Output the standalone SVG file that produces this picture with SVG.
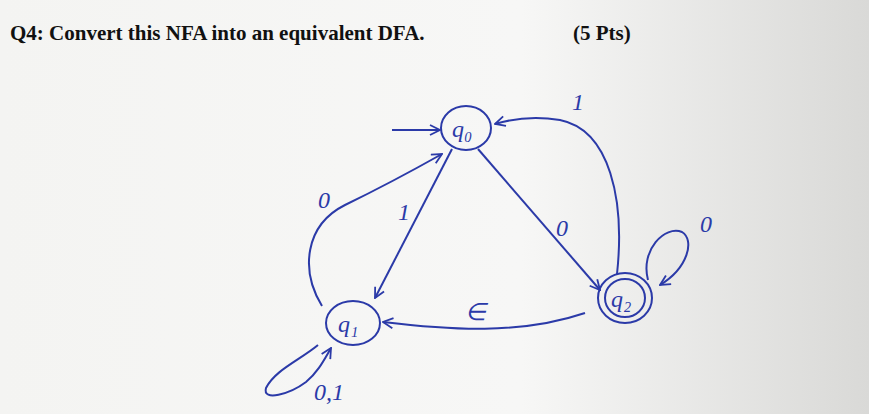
<svg xmlns="http://www.w3.org/2000/svg" width="869" height="414" viewBox="0 0 869 414">
<defs>
<linearGradient id="bg" x1="0" y1="0" x2="1" y2="0"><stop offset="0" stop-color="#f4f4f2"/><stop offset="0.6" stop-color="#f7f7f6"/><stop offset="1" stop-color="#d9d9d7"/></linearGradient>
<marker id="ah" viewBox="0 0 12 12" refX="11" refY="6" markerWidth="12" markerHeight="12" markerUnits="userSpaceOnUse" orient="auto"><path d="M1,1 L11,6 L1,11" fill="none" stroke="#2b3aa8" stroke-width="1.8"/></marker>
<style>
.pen{fill:none;stroke:#2b3aa8;stroke-width:2}
.lbl{font-family:"Liberation Serif",serif;font-style:italic;fill:#2b3aa8;font-size:24px}
.title{font-family:"Liberation Serif",serif;font-weight:bold;font-size:21px;fill:#111}
</style>
</defs>
<rect width="869" height="414" fill="url(#bg)"/>
<text class="title" x="10" y="40">Q4: Convert this NFA into an equivalent DFA.</text>
<text class="title" x="573" y="40">(5 Pts)</text>
<g id="q0"><ellipse class="pen" cx="466" cy="128" rx="25" ry="22"/><text class="lbl" x="452" y="137">q₀</text></g>
<g id="q1"><ellipse class="pen" cx="353" cy="323" rx="27" ry="22"/><text class="lbl" x="338" y="332">q₁</text></g>
<g id="q2"><ellipse class="pen" cx="625" cy="298" rx="27" ry="25"/><ellipse class="pen" cx="625" cy="298" rx="20" ry="19"/><text class="lbl" x="611" y="307">q₂</text></g>
<g id="connectors">
<path class="pen" d="M392,130 L440,130" marker-end="url(#ah)"/>
<path class="pen" d="M452,149 L375,298" marker-end="url(#ah)"/>
<path class="pen" d="M322,306 C300,270 305,225 345,205 C380,188 410,172 442,154" marker-end="url(#ah)"/>
<path class="pen" d="M478,149 L600,290" marker-end="url(#ah)"/>
<path class="pen" d="M617,274 C625,200 610,130 560,120 C535,116 515,118 495,124" marker-end="url(#ah)"/>
<path class="pen" d="M648,280 C640,250 665,225 682,232 C695,240 688,268 660,285" marker-end="url(#ah)"/>
<path class="pen" d="M585,313 C520,335 450,330 383,322" marker-end="url(#ah)"/>
<path class="pen" d="M318,345 C300,360 275,370 266,388 C262,402 290,394 306,382 C318,372 324,360 331,348" marker-end="url(#ah)"/>
<text class="lbl" x="572" y="110">1</text>
<text class="lbl" x="398" y="220">1</text>
<text class="lbl" x="318" y="208">0</text>
<text class="lbl" x="556" y="236">0</text>
<text class="lbl" x="700" y="232">0</text>
<text class="lbl" x="465" y="320">∈</text>
<text class="lbl" x="314" y="400">0,1</text>
</g>
</svg>
